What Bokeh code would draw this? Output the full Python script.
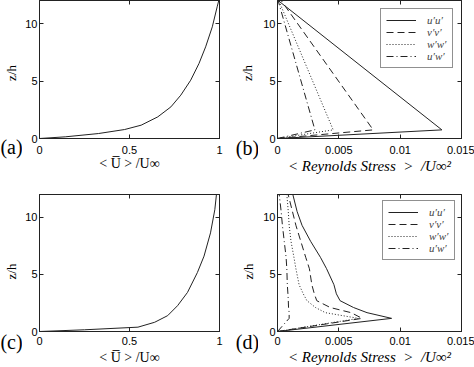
from bokeh.plotting import figure
from bokeh.models import Range1d, LinearAxis, FixedTicker
from bokeh.layouts import row, column
from bokeh.embed import file_html
from bokeh.resources import INLINE
from bokeh.core.properties import value
import math

# ---------------- data ----------------
# (a) mean velocity profile, case 1
z_a = [0, 0.145, 0.43, 0.78, 1.16, 1.88, 2.75, 3.77, 5.07, 6.52, 7.97, 9.71, 11.45, 12.0]
u_a = [0, 0.143, 0.327, 0.473, 0.565, 0.657, 0.73, 0.785, 0.84, 0.886, 0.923, 0.96, 0.987, 0.996]

# (c) mean velocity profile, case 2
z_c = [0, 0.15, 0.38, 0.81, 1.39, 2.26, 3.42, 5.16, 6.6, 8.64, 10.67, 12.0]
u_c = [0, 0.25, 0.547, 0.64, 0.712, 0.767, 0.822, 0.877, 0.914, 0.95, 0.974, 0.983]

# (b) Reynolds stresses, case 1
z_b = [0, 0.75, 12.0]
uu_b = [0, 0.0134, 0.00005]
vv_b = [0, 0.0078, 0.0003]
ww_b = [0, 0.00454, 0.0001]
uw_b = [0, 0.00305, 0.00005]

# (d) Reynolds stresses, case 2
z_d = [0, 1.15, 1.65, 2.1, 2.7, 3.3, 4.1, 5.5, 6.5, 7.9, 9.3, 10.5, 12.0]
uu_d = [0, 0.0093, 0.0073, 0.0062, 0.0051, 0.0048, 0.0046, 0.0040, 0.0035, 0.0027, 0.0020, 0.0016, 0.00125]
vv_d = [0, 0.0069, 0.0060, 0.0043, 0.0032, 0.0030, 0.0028, 0.0026, 0.0023, 0.0019, 0.0015, 0.00122, 0.00087]
ww_d = [0, 0.0066, 0.0039, 0.0031, 0.0024, 0.0021, 0.00176, 0.0015, 0.00134, 0.0011, 0.00095, 0.00088, 0.00076]
uw_d = [0, 0.00095, 0.00095, 0.0009, 0.00088, 0.00085, 0.0008, 0.00076, 0.0007, 0.00055, 0.0004, 0.0003, 0.00014]

stress_names = ["u\u2032u\u2032", "v\u2032v\u2032", "w\u2032w\u2032", "u\u2032w\u2032"]
u_ticks = [0, 0.5, 1]
u_tick_labels = {0: "0", 0.5: "0.5", 1: "1"}
s_ticks = [0, 0.005, 0.01, 0.015]
s_tick_labels = {0: "0", 0.005: "0.005", 0.01: "0.01", 0.015: "0.015"}
z_ticks = [0, 5, 10]
z_tick_labels = {0: "0", 5: "5", 10: "10"}
u_title = "< U\u0305 > /U\u221e"
s_title = "< Reynolds Stress\u2002>\u2002/U\u221e\u00b2"
z_title = "z/h"
panel_letters = ["(a)", "(b)", "(c)", "(d)"]

# ---------------- style ----------------
INK = "#222222"
TICK_FONT = "Liberation Sans"
SERIF = "Liberation Serif"
DASHES = ["solid", "7 4", "1 2", "7 3 1 3"]

LAB_W = 22                 # narrow column holding "z/h" and the panel letter
W_LEFT, W_RIGHT = 214, 216
H_TOP, H_BOT = 180, 187
FRAME_H = 138


def make_fig(width, height, bl, br, bt, bb, xmax, xticks, xlabels, xtitle, xitalic,
             tick_standoff, title_standoff):
    p = figure(width=width, height=height, output_backend="svg", toolbar_location=None,
               x_range=Range1d(0, xmax), y_range=Range1d(0, 12),
               min_border_left=bl, min_border_right=br,
               min_border_top=bt, min_border_bottom=bb,
               x_axis_type=None, y_axis_type=None)
    p.grid.grid_line_color = None
    p.outline_line_color = INK
    p.outline_line_width = 1
    p.background_fill_color = "white"
    p.border_fill_color = "white"

    xa = LinearAxis(ticker=FixedTicker(ticks=xticks), major_label_overrides=xlabels,
                    axis_label=xtitle)
    ya = LinearAxis(ticker=FixedTicker(ticks=z_ticks), major_label_overrides=z_tick_labels)
    for ax in (xa, ya):
        ax.axis_line_color = INK
        ax.major_tick_line_color = INK
        ax.major_tick_in = 4
        ax.major_tick_out = 0
        ax.minor_tick_in = 0
        ax.minor_tick_out = 0
        ax.major_label_text_font = TICK_FONT
        ax.major_label_text_font_size = "11px"
        ax.major_label_text_color = "black"
    xa.major_label_standoff = tick_standoff
    xa.axis_label_standoff = title_standoff
    xa.axis_label_text_font = SERIF
    xa.axis_label_text_color = "black"
    xa.axis_label_text_font_size = "15px" if xitalic else "14px"
    xa.axis_label_text_font_style = "italic" if xitalic else "normal"
    ya.major_label_standoff = 2
    p.add_layout(xa, "below")
    p.add_layout(ya, "left")

    # box: tick marks mirrored on top and right (drawn as label-free minor ticks)
    xt = LinearAxis(ticker=FixedTicker(ticks=[], minor_ticks=xticks))
    yr = LinearAxis(ticker=FixedTicker(ticks=[], minor_ticks=z_ticks))
    for ax in (xt, yr):
        ax.axis_line_color = INK
        ax.major_tick_in = 0
        ax.major_tick_out = 0
        ax.minor_tick_line_color = INK
        ax.minor_tick_in = 4
        ax.minor_tick_out = 0
        ax.major_label_standoff = 0
    p.add_layout(xt, "above")
    p.add_layout(yr, "right")
    return p


def label_column(height, bt, bb, zh_x, zh_y, letter, letter_standoff):
    # its frame is aligned with the neighbouring plot's frame (same y scale 0..12)
    q = figure(width=LAB_W, height=height, output_backend="svg", toolbar_location=None,
               x_range=Range1d(0, LAB_W), y_range=Range1d(0, 12),
               min_border_left=0, min_border_right=0, min_border_top=bt, min_border_bottom=bb,
               x_axis_type=None, y_axis_type=None)
    q.grid.grid_line_color = None
    q.outline_line_color = None
    q.background_fill_color = "white"
    q.border_fill_color = "white"
    q.text(x=[zh_x], y=[zh_y], text=[z_title], angle=math.pi / 2,
           text_font=value(SERIF), text_font_size=value("13px"), text_color="black",
           text_align="center", text_baseline="middle")
    # panel letter drawn as the label of a tick-less bottom axis (not clipped)
    ax = LinearAxis(ticker=FixedTicker(ticks=[]), axis_label=letter)
    ax.axis_line_color = None
    ax.major_tick_in = 0
    ax.major_tick_out = 0
    ax.minor_tick_in = 0
    ax.minor_tick_out = 0
    ax.major_label_standoff = 0
    ax.axis_label_standoff = letter_standoff
    ax.axis_label_text_font = SERIF
    ax.axis_label_text_font_size = "20px"
    ax.axis_label_text_font_style = "normal"
    ax.axis_label_text_color = "black"
    q.add_layout(ax, "below")
    return q


def style_legend(p, margin):
    lg = p.legend[0]
    lg.location = "top_right"
    lg.margin = margin
    lg.padding = 5
    lg.spacing = 0
    lg.glyph_width = 30
    lg.glyph_height = 12
    lg.label_height = 12
    lg.label_standoff = 11
    lg.label_text_font = SERIF
    lg.label_text_font_style = "italic"
    lg.label_text_font_size = "11px"
    lg.border_line_color = INK
    lg.border_line_width = 1
    lg.background_fill_color = "white"
    lg.background_fill_alpha = 1


BB_TOP = H_TOP - FRAME_H
BB_BOT = H_BOT - 14 - FRAME_H

# (a)
la = label_column(H_TOP, 0, BB_TOP, 11, 5.7, panel_letters[0], -3)
pa = make_fig(W_LEFT, H_TOP, 15, 17, 0, BB_TOP, 1, u_ticks, u_tick_labels,
              u_title, False, 7, -1)
pa.line(u_a, z_a, line_color=INK, line_width=1)

# (b)
lb = label_column(H_TOP, 0, BB_TOP, 11, 5.7, panel_letters[1], -2)
pb = make_fig(W_RIGHT, H_TOP, 19, 13, 0, BB_TOP, 0.015, s_ticks, s_tick_labels,
              s_title, True, 7, 1)
for xs, name, dash in zip([uu_b, vv_b, ww_b, uw_b], stress_names, DASHES):
    pb.line(xs, z_b, line_color=INK, line_width=1, line_dash=dash, legend_label=name)
style_legend(pb, 8)

# (c)
lc = label_column(H_BOT, 14, BB_BOT, 11, 5.25, panel_letters[2], -1)
pc = make_fig(W_LEFT, H_BOT, 15, 17, 14, BB_BOT, 1, u_ticks, u_tick_labels,
              u_title, False, 5, 2)
pc.line(u_c, z_c, line_color=INK, line_width=1)

# (d)
ld = label_column(H_BOT, 14, BB_BOT, 12, 5.25, panel_letters[3], -1)
pd_ = make_fig(W_RIGHT, H_BOT, 19, 13, 14, BB_BOT, 0.015, s_ticks, s_tick_labels,
               s_title, True, 5, 1)
for xs, name, dash in zip([uu_d, vv_d, ww_d, uw_d], stress_names, DASHES):
    pd_.line(xs, z_d, line_color=INK, line_width=1, line_dash=dash, legend_label=name)
style_legend(pd_, 6)

layout = column(row(la, pa, lb, pb), row(lc, pc, ld, pd_))

open("out.html", "w").write(file_html(layout, INLINE))
